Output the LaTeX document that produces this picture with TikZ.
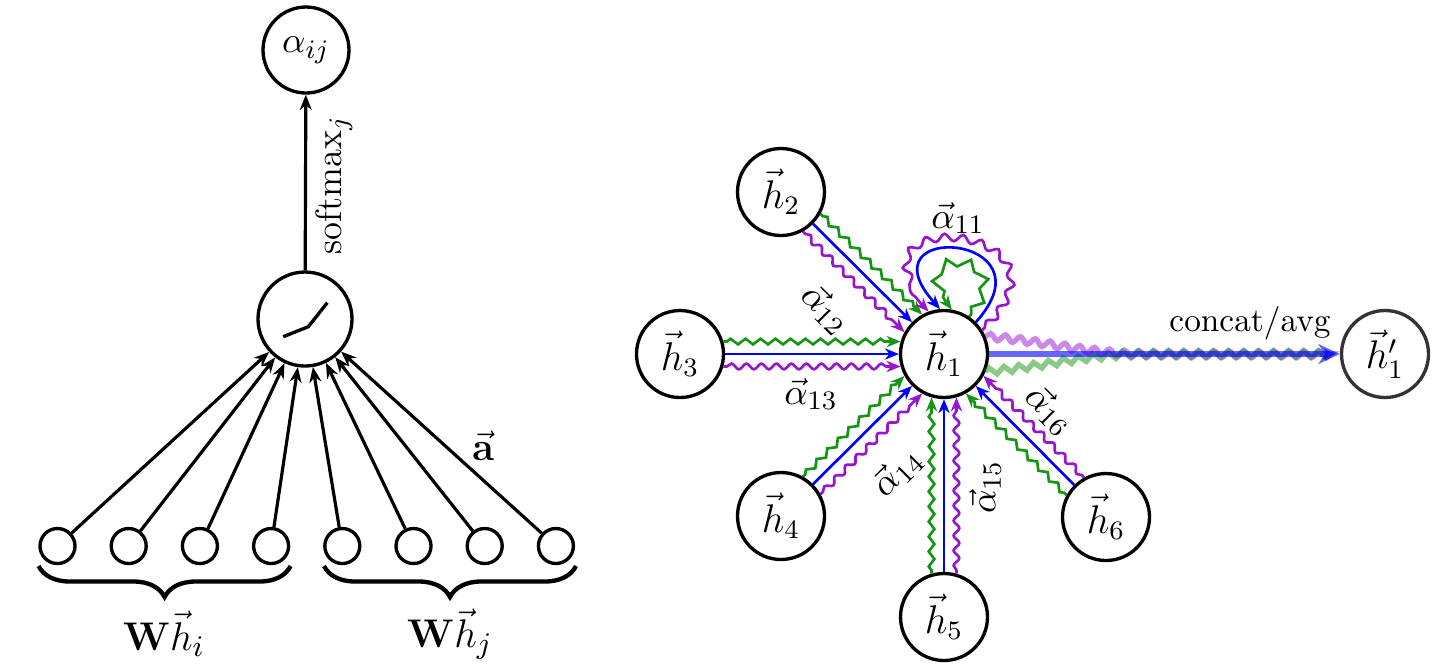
\documentclass[tikz,border=0pt]{standalone}
\usetikzlibrary{decorations.pathmorphing,decorations.pathreplacing,arrows.meta,calc}
\definecolor{eblue}{RGB}{0,0,255}
\definecolor{egreen}{RGB}{20,150,20}
\definecolor{epurple}{RGB}{150,20,210}
\begin{document}
\begin{tikzpicture}[x=0.3pt,y=0.3pt,
  circ/.style={circle,draw,line width=1pt,inner sep=0pt,minimum size=26.1pt,font=\fontsize{12}{14}\selectfont},
  smallc/.style={circle,draw,line width=1pt,inner sep=0pt,minimum size=10.5pt},
  arr/.style={line width=0.95pt,-{Stealth[length=4.6pt,width=3.6pt]}},
  bl/.style={eblue,line width=0.8pt,-{Stealth[length=4.2pt,width=3.4pt]}},
  gz/.style={egreen,line width=0.8pt,-{Stealth[length=4.2pt,width=3.4pt]},decorate,
    decoration={zigzag,segment length=4.5pt,amplitude=0.85pt,pre length=1pt,post length=3.5pt}},
  ps/.style={epurple,line width=0.8pt,-{Stealth[length=4.2pt,width=3.4pt]},decorate,
    decoration={snake,segment length=4.5pt,amplitude=0.85pt,pre length=1pt,post length=3.5pt}},
  gzl/.style={gz,decoration={zigzag,segment length=6.5pt,amplitude=1.4pt,pre length=1pt,post length=3.5pt}},
  psl/.style={ps,decoration={snake,segment length=5.5pt,amplitude=1.1pt,pre length=1pt,post length=3.5pt}},
  cat/.style={line width=1.6pt,opacity=0.5},
  lab/.style={inner sep=0pt,font=\fontsize{11}{13}\selectfont}
]
\useasboundingbox (0,0) rectangle (1440,-666);

% ---------- left panel ----------
\node[circ,minimum size=25.8pt,font=\fontsize{11}{13}\selectfont] (aij) at (306,-50) {$\alpha_{ij}$};
\node[circ,minimum size=28.2pt] (act) at (305,-319) {};
\draw[line width=1pt] ($(act)+(-21.7,-17.7)$) -- ++(25,10) -- ++(19,24);
\foreach \i in {1,...,8} {
  \node[smallc] (s\i) at ({57.5+71.2*(\i-1)},-546) {};
  \draw[arr] (s\i) -- (act);
}
\draw[arr] (act) -- (aij);
\node[lab,rotate=90] (sm) at (334,-185) {softmax$_j$};
\node[lab,font=\fontsize{12}{14}\selectfont] (avec) at (483,-446) {$\vec{\mathbf{a}}$};
\coordinate (b1s) at (38.6,-566);
\coordinate (b1e) at (290.6,-566);
\coordinate (b2s) at (324,-566);
\coordinate (b2e) at (576,-566);
\draw[line width=1.3pt,decorate,decoration={brace,mirror,amplitude=9.3pt}] (b1s) -- (b1e);
\draw[line width=1.3pt,decorate,decoration={brace,mirror,amplitude=9.3pt}] (b2s) -- (b2e);
\node[lab,font=\fontsize{12.5}{15}\selectfont] (wi) at (164,-634) {$\mathbf{W}\vec{h}_i$};
\node[lab,font=\fontsize{12.5}{15}\selectfont] (wj) at (450,-634) {$\mathbf{W}\vec{h}_j$};

% ---------- right panel ----------
\node[circ] (h1) at (944,-354) {$\vec{h}_1$};
\node[circ] (h2) at (781,-192) {$\vec{h}_2$};
\node[circ] (h3) at (680,-354) {$\vec{h}_3$};
\node[circ] (h4) at (781,-516) {$\vec{h}_4$};
\node[circ] (h5) at (944,-617) {$\vec{h}_5$};
\node[circ] (h6) at (1106,-517) {$\vec{h}_6$};
\node[circ,draw=black!80] (h1p) at (1385,-354) {$\vec{h}'_1$};

\foreach \k/\t in {2/135,3/180,4/225,5/270,6/315} {
  \pgfmathtruncatemacro\ga{mod(\t+196,360)}
  \pgfmathtruncatemacro\gb{mod(\t-16+360,360)}
  \pgfmathtruncatemacro\pa{mod(\t+164,360)}
  \pgfmathtruncatemacro\pb{mod(\t+16,360)}
  \draw[bl] (h\k) -- (h1);
  \draw[gz] (h\k.\ga) -- (h1.\gb);
  \draw[ps] (h\k.\pa) -- (h1.\pb);
}

% self loop
\draw[bl] (h1.45) .. controls +(48:120) and +(132:120) .. (h1.95);
\draw[gzl] (h1.56) .. controls +(50:88) and +(130:88) .. (h1.80);
\draw[psl] (h1.32) .. controls +(45:150) and +(135:150) .. (h1.110);

% labels
\node[lab] (a11) at (958,-218) {$\vec{\alpha}_{11}$};
\node[lab,rotate=-45] (a12) at (826,-309) {$\vec{\alpha}_{12}$};
\node[lab] (a13) at (811,-394) {$\vec{\alpha}_{13}$};
\node[lab,rotate=45] (a14) at (897,-472) {$\vec{\alpha}_{14}$};
\node[lab,rotate=90] (a15) at (985,-487) {$\vec{\alpha}_{15}$};
\node[lab,rotate=-45] (a16) at (1050,-410) {$\vec{\alpha}_{16}$};

% concat / avg
\coordinate (cm) at (1150,-354);
\draw[cat,epurple,decorate,decoration={snake,segment length=4.5pt,amplitude=1pt,post length=1pt},shorten >=6pt]
  (h1.23) to[out=-5,in=180] (cm) -- (h1p);
\draw[cat,egreen,decorate,decoration={zigzag,segment length=4.5pt,amplitude=1pt,post length=1pt},shorten >=6pt]
  (h1.-23) to[out=5,in=180] (cm) -- (h1p);
\draw[cat,eblue,opacity=0.6,-{Stealth[length=6.5pt,width=6pt]}] (h1) -- (h1p);
\node[lab,font=\fontsize{10}{12}\selectfont] (catl) at (1250,-323) {concat/avg};
\end{tikzpicture}
\end{document}
